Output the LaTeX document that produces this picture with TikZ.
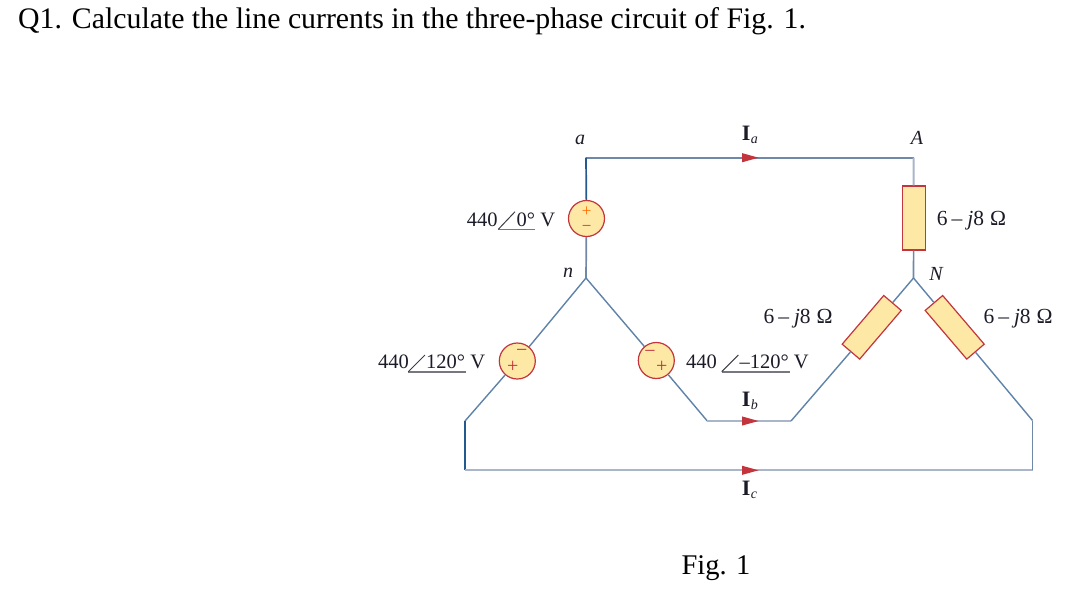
\documentclass[tikz,border=0pt]{standalone}
\usepackage{fontspec}
\setmainfont{Liberation Serif}
\definecolor{wirea}{HTML}{7088A8}
\definecolor{wirelight}{HTML}{A9B6CA}
\definecolor{wirediag}{HTML}{5F83A8}
\definecolor{wiredark}{HTML}{23598F}
\definecolor{elemfill}{HTML}{FDE8A6}
\definecolor{elemred}{HTML}{C4343C}
\definecolor{ink}{HTML}{1C1C28}
\tikzset{
  srcnode/.style={circle,draw=elemred,fill=elemfill,line width=1.2pt,minimum size=36pt,inner sep=0pt},
  loadnode/.style={rectangle,draw=elemred,fill=elemfill,line width=1.2pt,minimum width=23pt,minimum height=64pt,inner sep=0pt},
  lab/.style={text=ink,font=\fontsize{20.5}{22}\selectfont,inner sep=0pt,anchor=base west},
  zlab/.style={text=ink,font=\fontsize{21.5}{23}\selectfont,inner sep=0pt,anchor=base west},
  nodelab/.style={text=ink,font=\fontsize{20}{22}\selectfont\itshape,inner sep=0pt},
  signnode/.style={text=elemred,font=\fontsize{20}{20}\selectfont,inner sep=0pt},
  smallsign/.style={text=elemred,font=\fontsize{17}{17}\selectfont,inner sep=0pt},
  anglemark/.style={draw=ink!60,line width=1.6pt},
  angleslash/.style={draw=ink!85,line width=1pt},
  wirethin/.style={draw=wirediag,line width=1.4pt},
  wirethick/.style={draw=wirelight,line width=2.3pt},
  titletext/.style={text=black,font=\fontsize{29.8}{32}\selectfont,inner sep=0pt,anchor=base west},
}
\newcommand{\redmark}[1]{\fill[elemred] (742,#1-4.6) -- (758.5,#1) -- (742,#1+4.6) -- cycle;}
\newcommand{\curlab}[1]{{\fontsize{22}{22}\selectfont\textbf{I}}\kern0.5pt\raisebox{-3pt}{\fontsize{14}{14}\selectfont\itshape #1}}
\newcommand{\zval}{6\kern4pt–\kern5pt\textit{j}8\kern6ptΩ}
\begin{document}
\begin{tikzpicture}[x=1pt,y=-1pt]
\useasboundingbox (0,0) rectangle (1070,598);
\node[titletext] (title) at (18,28) {Q1. Calculate the line currents in the three-phase circuit of Fig. 1.};
\node[text=black,font=\fontsize{28.5}{30}\selectfont,inner sep=0pt,anchor=base] (fig) at (716,574) {Fig. 1};

\coordinate (a) at (586,157.7);
\coordinate (A) at (913.5,157.7);
\coordinate (n) at (586,278);
\coordinate (N) at (913.5,278);
\coordinate (cl) at (465,421);
\coordinate (cb) at (465,470.3);
\coordinate (br) at (1032.5,470.3);
\coordinate (cr) at (1032.5,420.5);
\coordinate (bl) at (707.3,421);
\coordinate (bm) at (791,421);

\node[srcnode] (Va) at (586.5,218.5) {};
\node[srcnode] (Vc) at (517.3,361) {};
\node[srcnode] (Vb) at (656.3,360.5) {};
\node[loadnode] (Za) at (913.8,218) {};
\node[loadnode,rotate=-40.5] (Zb) at (871.7,327.3) {};
\node[loadnode,rotate=40.5] (Zc) at (954.7,327.3) {};

\draw[wirea,line width=2pt] (a) -- (A);
\draw[wiredark,line width=1.7pt] (a) -- (Va);
\draw[wirea,line width=1.7pt] (Va) -- (n);
\draw[wirelight,line width=2pt] (A) -- (Za);
\draw[wirea,line width=1.7pt] (Za) -- (N);
\draw[wirethin] (n) -- (Vc);
\draw[wirethin] (Vc) -- (cl);
\draw[wirethin] (n) -- (Vb);
\draw[wirethin] (Vb) -- (bl);
\draw[wirethick] (bl) -- (bm);
\draw[wirethin] (bm) -- (Zb);
\draw[wirethin] (Zb) -- (N);
\draw[wirethin] (N) -- (Zc);
\draw[wirethin] (Zc) -- (cr);
\draw[wiredark,line width=1.7pt] (cl) -- (cb);
\draw[wirethick] (cb) -- (br);
\draw[wirea,line width=1.5pt] (br) -- (cr);

\redmark{157.7}
\redmark{421}
\redmark{470.3}

\node[nodelab] (la) at (580,140) {a};
\node[nodelab] (lA) at (917,138) {A};
\node[nodelab] (ln) at (568,273) {n};
\node[nodelab] (lN) at (936,274) {N};

\node[lab] (ia) at (741.7,140.5) {\curlab{a}};
\node[lab] (ib) at (741.7,406.7) {\curlab{b}};
\node[lab] (ic) at (741.7,495) {\curlab{c}};

\node[smallsign,text=orange!85!red] (pa) at (586.7,211.5) {+};
\node[smallsign] (ma) at (586.7,228.5) {−};
\node[signnode] (mc) at (521.7,353.3) {−};
\node[signnode] (pc) at (512.7,366.7) {+};
\node[signnode] (mb) at (650,354.3) {−};
\node[signnode] (pb) at (661.7,366.7) {+};

\node[lab] (v1a) at (466.7,226) {440};
\draw[anglemark] (498.3,229.3) -- (535,229.3);
\draw[angleslash] (498.3,229.3) -- (515,211.7);
\node[lab] (v1b) at (516.5,226) {0° V};

\node[lab] (v2a) at (378,368.3) {440};
\draw[anglemark] (408.3,371.7) -- (466,371.7);
\draw[angleslash] (408.3,371.7) -- (425,355);
\node[lab] (v2b) at (426,368.3) {120° V};

\node[lab] (v3a) at (686,368.3) {440};
\draw[anglemark] (721.7,371.7) -- (790,371.7);
\draw[angleslash] (721.7,371.7) -- (738.3,355);
\node[lab] (v3b) at (739.3,368.3) {–120° V};

\node[zlab] (z1) at (936.7,225) {\zval};
\node[zlab] (z2) at (763.3,323.3) {\zval};
\node[zlab] (z3) at (983.3,323.3) {\zval};
\end{tikzpicture}
\end{document}
